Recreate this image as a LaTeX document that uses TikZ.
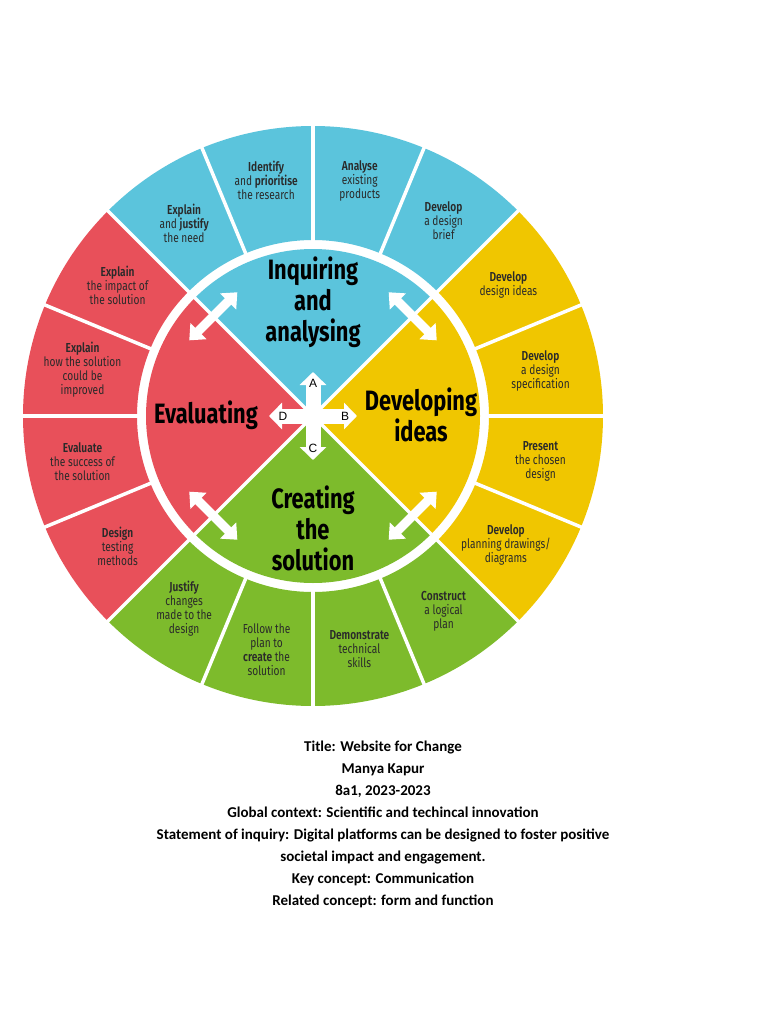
\documentclass[tikz,border=0pt]{standalone}
\usepackage{fontspec}
\setmainfont{Carlito}
\newfontfamily\wf[FakeStretch=0.78]{Fira Sans}
\newfontfamily\wfb[FakeStretch=0.78]{Fira Sans SemiBold}
\usetikzlibrary{arrows.meta}
\definecolor{cblue}{HTML}{5BC4DC}
\definecolor{cyel}{HTML}{F0C600}
\definecolor{cgreen}{HTML}{7DBB2C}
\definecolor{cred}{HTML}{E8505A}
\definecolor{ctxt}{HTML}{2A2A2A}
\tikzset{seg/.style={font=\wf\fontsize{13}{14}\selectfont,text=ctxt,align=center},
big/.style={font=\wf\bfseries\fontsize{28}{31}\selectfont,text=black,align=center},
dbl/.style={white,line width=9pt,{Triangle[width=22pt,length=13pt]}-{Triangle[width=22pt,length=13pt]}},
cr/.style={white,line width=15pt,-{Triangle[width=26pt,length=13pt]}},
lab/.style={font=\fontspec{Liberation Sans}\fontsize{12}{12}\selectfont,text=black},
foot/.style={font=\bfseries\fontsize{15}{22}\selectfont,align=center}}
\newcommand\ringseg[3]{\fill[#3] (313,-416) ++(#1:290) arc[start angle=#1,end angle=#2,radius=290] -- ($(313,-416)+(#2:176)$) arc[start angle=#2,end angle=#1,radius=176] -- cycle;}
\usetikzlibrary{calc}
\begin{document}
\begin{tikzpicture}[x=1pt,y=1pt]
\useasboundingbox (0,0) rectangle (768,-1024);
\fill[white] (0,0) rectangle (768,-1024);
\coordinate (O) at (313,-416);
% ring
\ringseg{45}{135}{cblue}
\ringseg{-45}{45}{cyel}
\ringseg{-135}{-45}{cgreen}
\ringseg{135}{225}{cred}
\foreach \a in {0,22.5,...,337.5}{\draw[white,line width=3.5pt] ($(O)+(\a:170)$) -- ($(O)+(\a:292)$);}
% inner quadrants
\fill[cblue] (O) -- ++(45:167) arc[start angle=45,end angle=135,radius=167] -- cycle;
\fill[cyel] (O) -- ++(-45:167) arc[start angle=-45,end angle=45,radius=167] -- cycle;
\fill[cgreen] (O) -- ++(-135:167) arc[start angle=-135,end angle=-45,radius=167] -- cycle;
\fill[cred] (O) -- ++(135:167) arc[start angle=135,end angle=225,radius=167] -- cycle;
\foreach \a in {45,135,225,315}{\draw[white,line width=3.5pt] (O) -- ($(O)+(\a:170)$);}
% segment texts
\node[seg] (s1) at ($(O)+(123.75:232)$) {\wfb Explain\\and {\wfb justify}\\the need};
\node[seg] (s2) at ($(O)+(101.25:240)$) {\wfb Identify\\and {\wfb prioritise}\\the research};
\node[seg] (s3) at ($(O)+(78.75:240)$) {\wfb Analyse\\existing\\products};
\node[seg] (s4) at ($(O)+(56.25:235)$) {\wfb Develop\\a design\\brief};
\node[seg] (s5) at ($(O)+(33.75:235)$) {\wfb Develop\\design ideas};
\node[seg] (s6) at ($(O)+(11.25:232)$) {\wfb Develop\\a design\\specification};
\node[seg] (s7) at ($(O)+(-11.25:232)$) {\wfb Present\\the chosen\\design};
\node[seg] (s8) at ($(O)+(-33.75:232)$) {\wfb Develop\\planning drawings/\\diagrams};
\node[seg] (s9) at ($(O)+(-56.25:235)$) {\wfb Construct\\a logical\\plan};
\node[seg] (s10) at ($(O)+(-78.75:238)$) {\wfb Demonstrate\\technical\\skills};
\node[seg] (s11) at ($(O)+(-101.25:238)$) {Follow the\\plan to\\{\wfb create} the\\solution};
\node[seg] (s12) at ($(O)+(-123.75:232)$) {\wfb Justify\\changes\\made to the\\design};
\node[seg] (s13) at ($(O)+(-146.25:235)$) {\wfb Design\\testing\\methods};
\node[seg] (s14) at ($(O)+(-168.75:235)$) {\wfb Evaluate\\the success of\\the solution};
\node[seg] (s15) at ($(O)+(168.75:235)$) {\wfb Explain\\how the solution\\could be\\improved};
\node[seg] (s16) at ($(O)+(146.25:235)$) {\wfb Explain\\the impact of\\the solution};
% big labels
\node[big] (qi) at (313,-302) {Inquiring\\and\\analysing};
\node[big] (qd) at (421,-415) {Developing\\ideas};
\node[big] (qc) at (313,-528) {Creating\\the\\solution};
\node[big] (qe) at (206,-415) {Evaluating};
% diagonal arrows
\foreach \a/\n in {135/d1,45/d2,-45/d3,-135/d4}{
 \coordinate (\n) at ($(O)+(\a:141)$);
 \draw[dbl] ($(\n)+(\a-90:34)$) -- ($(\n)+(\a+90:34)$);}
% centre cross
\foreach \a/\n in {90/tA,0/tB,-90/tC,180/tD}{\coordinate (\n) at ($(O)+(\a:44)$); \draw[cr] (O) -- (\n);}
\fill[white] (313-8,-416-8) rectangle (313+8,-416+8);
\node[lab] (A) at (313,-383) {A};
\node[lab] (B) at (345,-416) {B};
\node[lab] (C) at (313,-448) {C};
\node[lab] (D) at (283,-416) {D};
% footer
\node[foot,anchor=north] (ft) at (383,-737) {Title: Website for Change\\Manya Kapur\\8a1, 2023-2023\\Global context: Scientific and techincal innovation\\Statement of inquiry: Digital platforms can be designed to foster positive\\societal impact and engagement.\\Key concept: Communication\\Related concept: form and function};
\end{tikzpicture}
\end{document}
